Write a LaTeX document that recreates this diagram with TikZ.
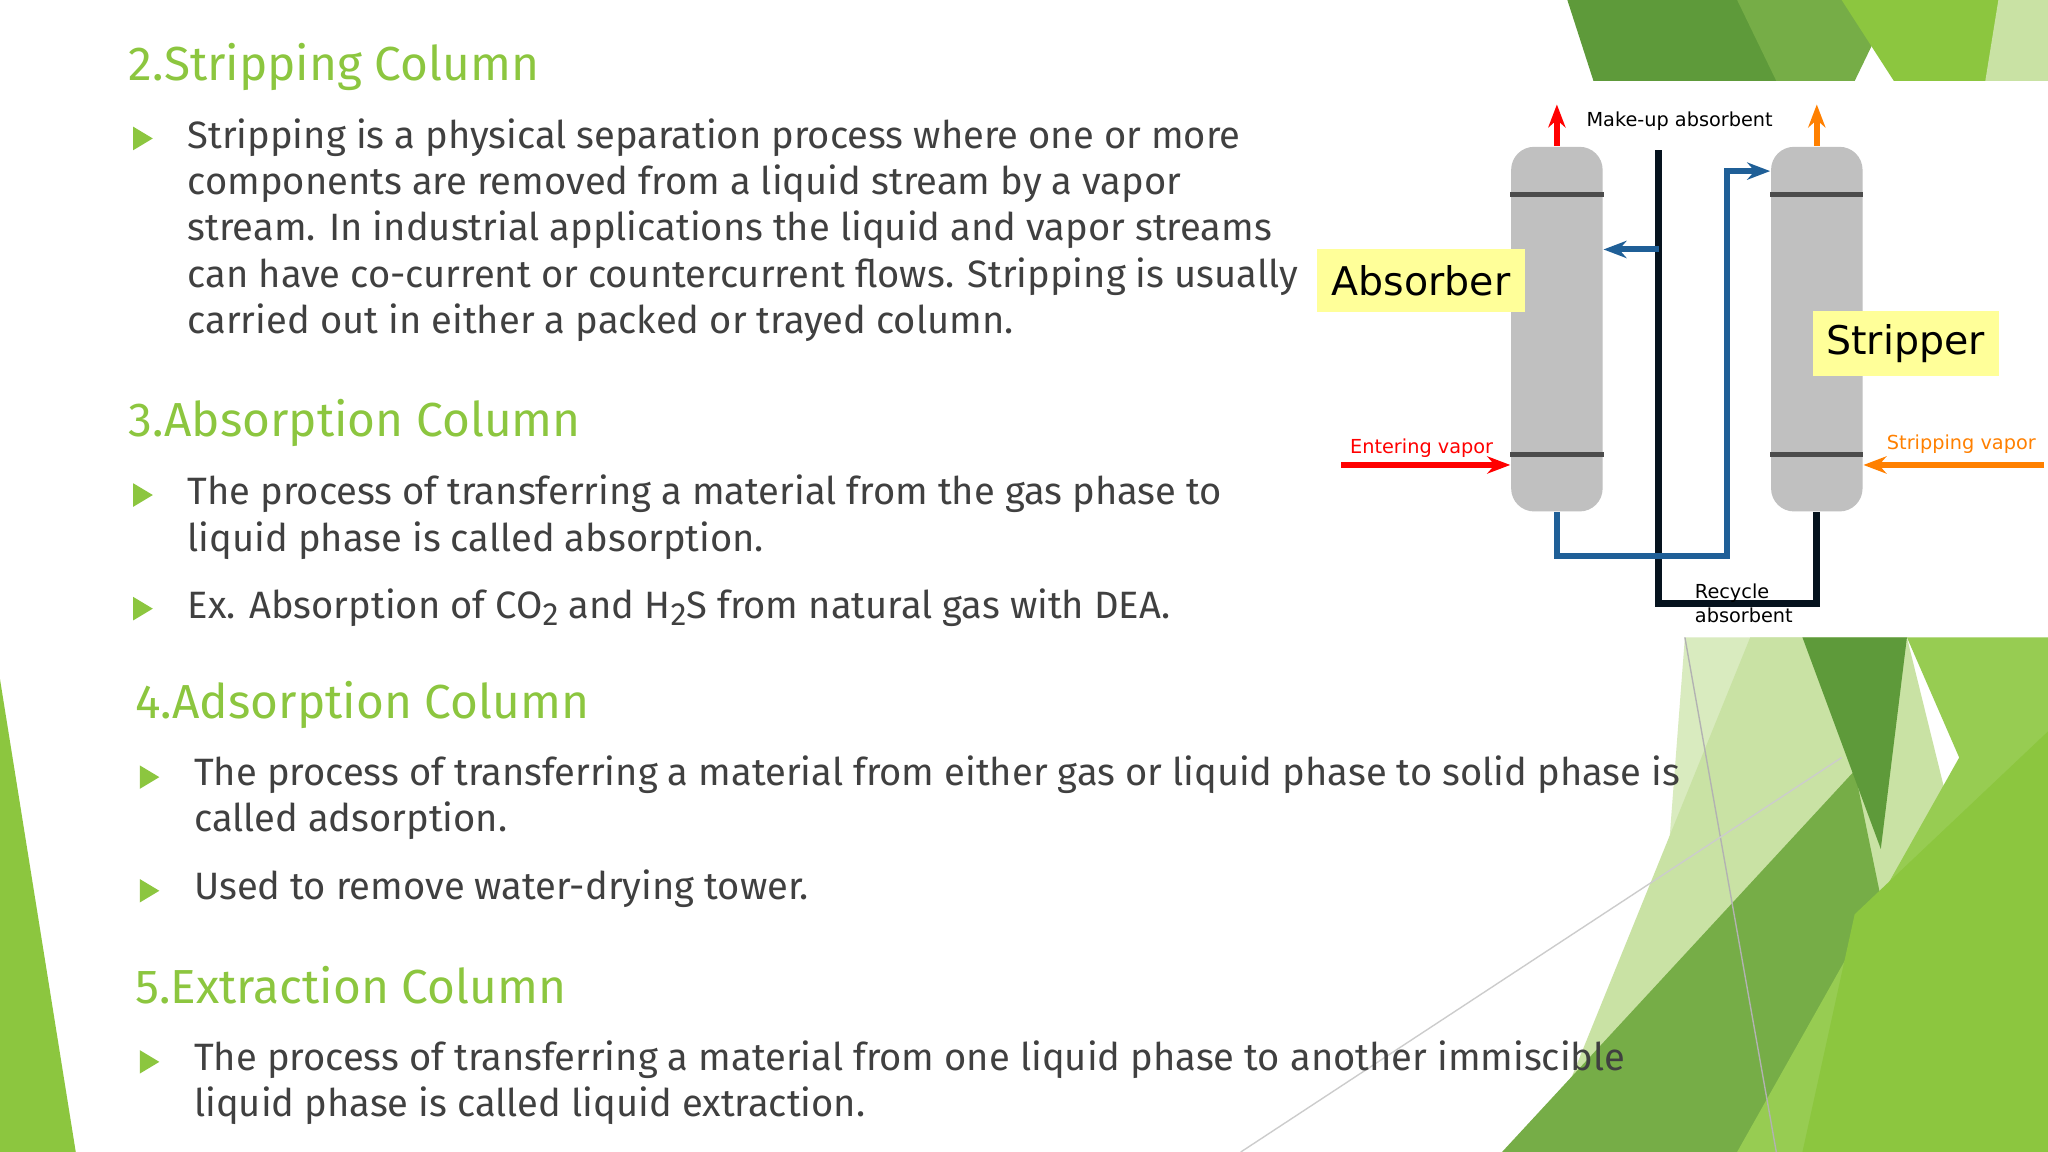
\documentclass[tikz,border=0pt]{standalone}
\usepackage{fontspec}
\setmainfont{Fira Sans}
\newfontfamily\dfont{DejaVu Sans}
\usetikzlibrary{arrows.meta}
\definecolor{hgreen}{HTML}{8CC63F}
\definecolor{dgreen}{HTML}{5E9A3A}
\definecolor{mgreen}{HTML}{76AD47}
\definecolor{lgreen}{HTML}{C9E2A4}
\definecolor{txt}{HTML}{404040}
\definecolor{pipe}{HTML}{1F5F97}
\definecolor{colg}{HTML}{C0C0C0}
\definecolor{lab}{HTML}{FFFF99}
\tikzset{
 head/.style={anchor=base west,text=hgreen,inner sep=0pt,font=\fontsize{10.4}{12}\selectfont},
 body/.style={anchor=north west,text=txt,font=\fontsize{8.3}{10.1}\selectfont,align=left,inner sep=0pt},
 bul/.style={fill=hgreen,draw=none},
 col/.style={fill=colg,rounded corners=5pt,draw=none},
 blu/.style={draw=pipe,line width=1.3pt},
 small/.style={font=\dfont\fontsize{4.2}{5.2}\selectfont,text=black,inner sep=0pt},
 ylab/.style={fill=lab,font=\dfont\fontsize{8.6}{10}\selectfont,minimum height=0.48cm,inner sep=3pt}
}
\newcommand{\bulat}[2]{\fill[bul] (#1-6,#2-9) -- (#1+9,#2) -- (#1-6,#2+9) -- cycle;}
\newcommand{\sbs}[1]{\raisebox{-0.35ex}{\scriptsize #1}}
\begin{document}
\begin{tikzpicture}[x=0.01cm,y=-0.01cm]
\useasboundingbox (0,0) rectangle (1568,882);
\fill[white] (0,0) rectangle (1568,882);
% top right green
\fill[dgreen] (1200,0) -- (1420,0) -- (1420,62) -- (1220,62) -- cycle;
\fill[mgreen] (1330,0) -- (1450,0) -- (1420,62) -- (1360,62) -- cycle;
\fill[hgreen] (1410,0) -- (1568,0) -- (1568,62) -- (1450,62) -- cycle;
\fill[lgreen] (1530,0) -- (1568,0) -- (1568,62) -- (1520,62) -- cycle;
% bottom right green
\fill[lgreen!70] (1290,488) -- (1380,488) -- (1420,882) -- (1260,882) -- cycle;
\fill[lgreen] (1340,488) -- (1460,488) -- (1500,650) -- (1360,882) -- (1180,882) -- cycle;
\fill[mgreen] (1150,882) -- (1420,590) -- (1480,882) -- cycle;
\fill[dgreen] (1380,488) -- (1460,488) -- (1440,650) -- cycle;
\fill[hgreen!90] (1460,488) -- (1568,488) -- (1568,882) -- (1330,882) -- (1500,580) -- cycle;
\fill[hgreen] (1420,700) -- (1568,560) -- (1568,882) -- (1380,882) -- cycle;
\draw[gray!60,line width=0.3pt] (1290,488) -- (1360,882);
\draw[gray!40,line width=0.3pt] (950,882) -- (1410,580);
% left green
\fill[hgreen] (0,520) -- (58,882) -- (0,882) -- cycle;
% text
\node[head] (h2) at (98,62) {2.Stripping Column};
\bulat{108}{106}
\node[body] (t2) at (143,90) {Stripping is a physical separation process where one or more\\components are removed from a liquid stream by a vapor\\stream. In industrial applications the liquid and vapor streams\\can have co-current or countercurrent flows. Stripping is usually\\carried out in either a packed or trayed column.};
\node[head] (h3) at (98,334) {3.Absorption Column};
\bulat{108}{379}
\node[body] (t3) at (143,363) {The process of transferring a material from the gas phase to\\liquid phase is called absorption.};
\bulat{108}{466}
\node[body] (t3b) at (143,450) {Ex. Absorption of CO\sbs{2}  and  H\sbs{2}S from natural gas with DEA.};
\node[head] (h4) at (103,550) {4.Adsorption Column};
\bulat{113}{595}
\node[body] (t4) at (148,578) {The process of transferring a material from either gas or liquid phase to solid phase is\\called adsorption.};
\bulat{113}{682}
\node[body] (t4b) at (148,665) {Used to remove water-drying tower.};
\node[head] (h5) at (103,768) {5.Extraction Column};
\bulat{113}{813}
\node[body] (t5) at (148,796) {The process of transferring a material from one liquid phase to another immiscible\\liquid phase is called liquid extraction.};
% diagram
\fill[white] (1000,62) rectangle (1568,488);
\node[col,minimum width=0.7cm,minimum height=2.79cm] (abs) at (1192,252) {};
\node[col,minimum width=0.7cm,minimum height=2.79cm] (str) at (1391,252) {};
\foreach \c in {abs,str}{
 \draw[black!70,line width=1pt] (\c.west |- 0,149) -- (\c.east |- 0,149);
 \draw[black!70,line width=1pt] (\c.west |- 0,348) -- (\c.east |- 0,348);}
\node[ylab,minimum width=1.59cm] (al) at (1088,215) {Absorber};
\node[ylab,minimum width=1.38cm] (sl) at (1459,263) {Stripper};
\coordinate (top1) at (1192,80);
\coordinate (top2) at (1391,80);
\draw[red,line width=1.3pt,-{Stealth[length=5pt]}] (abs.north) -- (top1);
\draw[orange,line width=1.3pt,-{Stealth[length=5pt]}] (str.north) -- (top2);
\node[small,anchor=west] (mk) at (1214,93) {Make-up absorbent};
\coordinate (mt) at (1270,115);
\coordinate (mb) at (1270,462);
\draw[blu,line width=1.5pt,black!80!pipe] (mt) -- (mb) -- (1391,462) -- (str.south);
\coordinate (ma) at (1270,191);
\draw[blu,-{Stealth[length=5pt]}] (ma) -- (abs.east |- ma);
\draw[blu,-{Stealth[length=5pt]}] (abs.south) -- (1192,426) -- (1322,426) -- (1322,131) -- (str.west |- 0,131);
\node[small,anchor=west,align=left] (rc) at (1297,462) {Recycle\\absorbent};
\coordinate (ev) at (1027,356);
\coordinate (sv) at (1565,356);
\draw[red,line width=1.3pt,-{Stealth[length=5pt]}] (ev) -- (abs.west |- ev);
\draw[orange,line width=1.3pt,-{Stealth[length=5pt]}] (sv) -- (str.east |- sv);
\node[small,text=red,anchor=south west] (el) at (1033,351) {Entering vapor};
\node[small,text=orange,anchor=south west] (sl2) at (1444,348) {Stripping vapor};
\end{tikzpicture}
\end{document}
